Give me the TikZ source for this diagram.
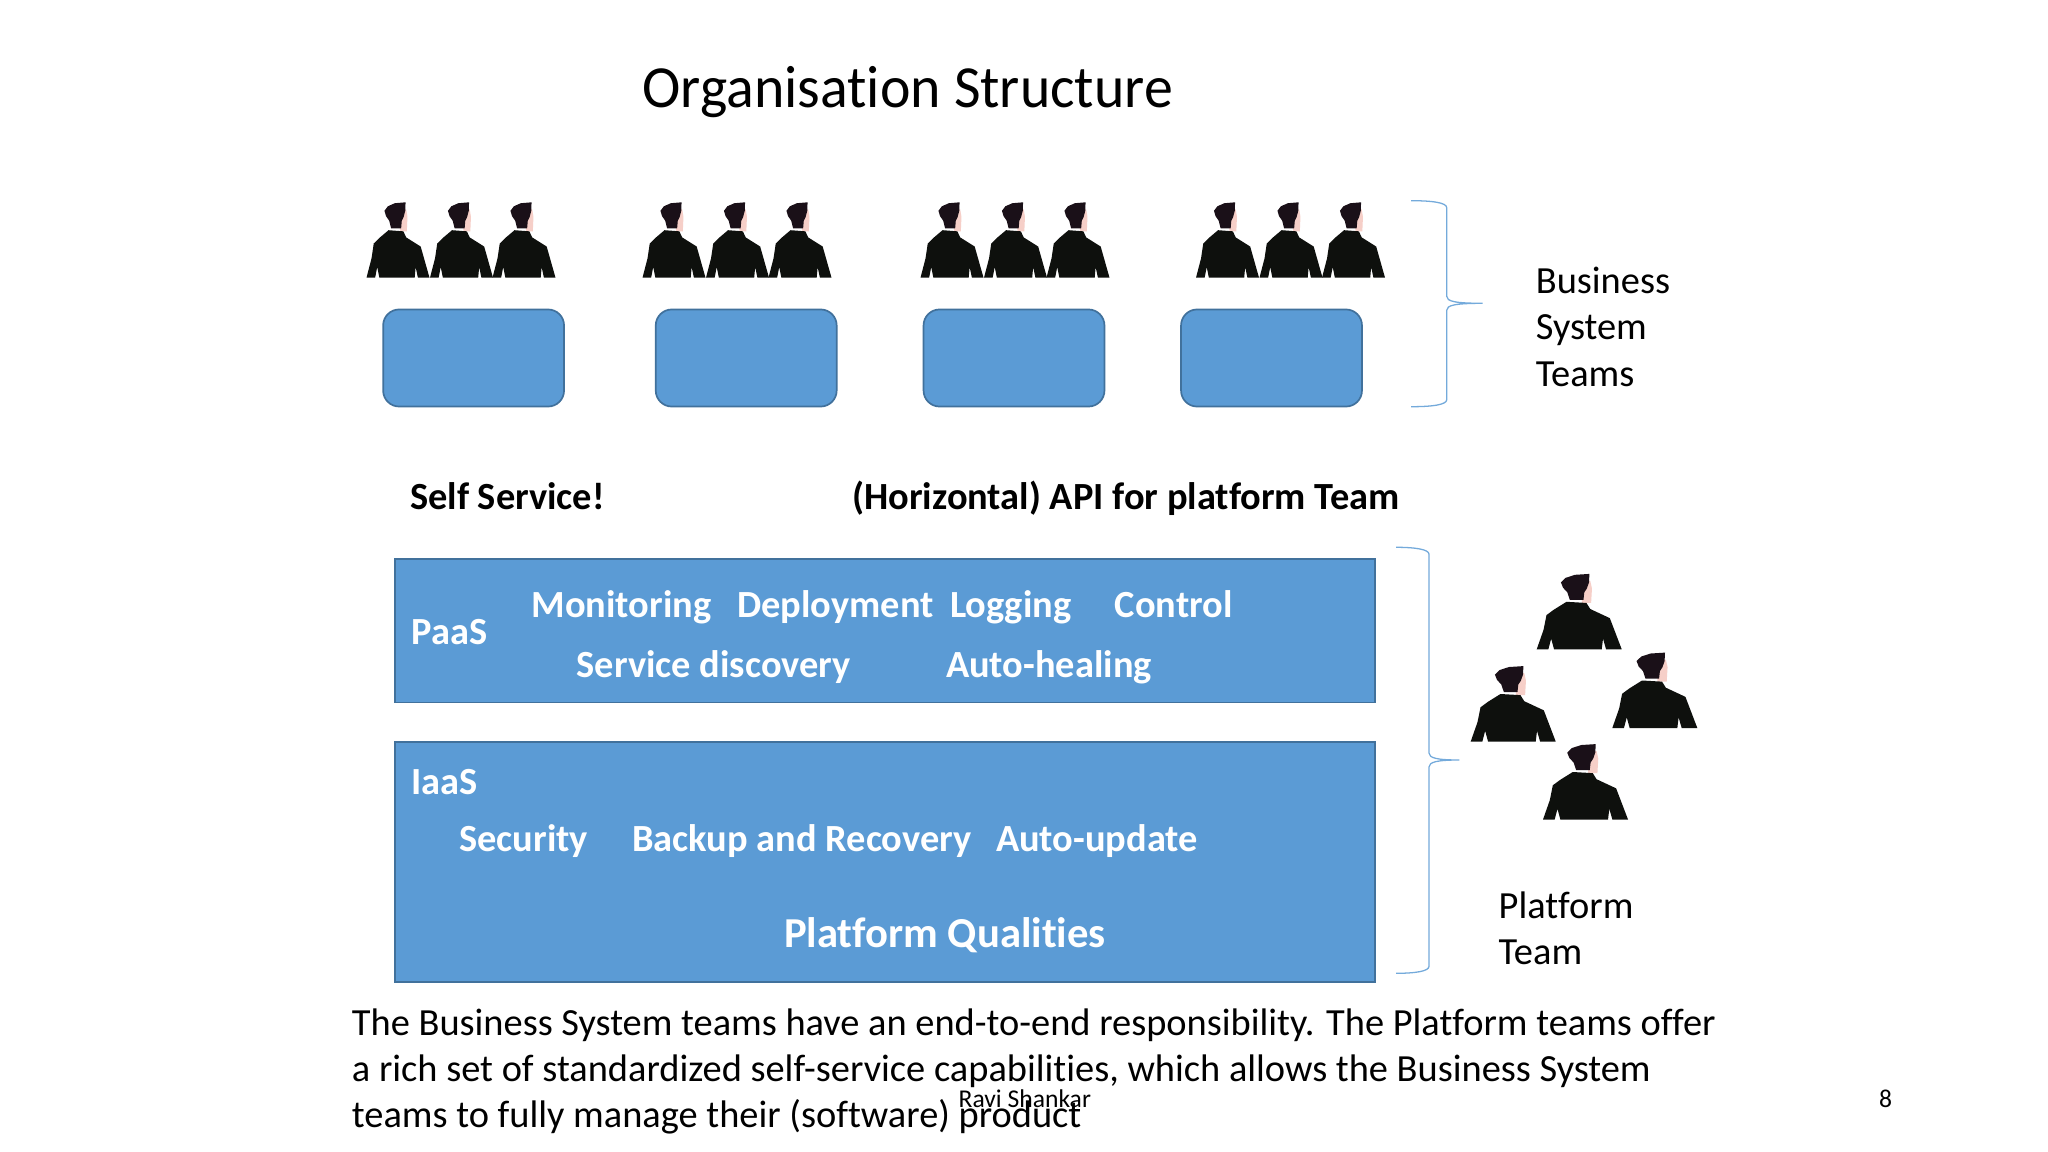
\documentclass[tikz,border=0pt]{standalone}
\usepackage{fontspec}
\setmainfont{Carlito}[Ligatures={NoCommon}]
\definecolor{boxfill}{HTML}{5B9BD5}
\definecolor{boxline}{HTML}{41719C}
\definecolor{suit}{HTML}{0E100D}
\definecolor{hairc}{HTML}{1A1018}
\definecolor{skin}{HTML}{F6CFC8}
\newcommand{\fs}[1]{\fontsize{#1}{#1}\selectfont}
\newcommand{\man}[3]{%
\begin{scope}[shift={(#1,#2)},xscale=#3,yscale=76]
\fill[skin] (.54,.1)--(.63,.1)--(.65,.2)--(.64,.39)--(.53,.39)--cycle;
\fill[hairc] (.285,.12)--(.34,.06)--(.45,.02)--(.62,.008)--(.615,.12)--(.59,.2)--(.56,.25)--(.55,.35)--(.39,.35)--(.36,.25)--(.31,.19)--cycle;
\fill[suit] (.35,.375)--(.585,.39)--(.63,.47)--(.86,.59)--(1,1)--(.816,1)--(.78,.86)--(.765,1)--(.204,1)--(.17,.86)--(.137,1)--(0,1)--(.08,.745)--(.115,.55)--(.2,.48)--cycle;
\end{scope}}
\newcommand{\curlybr}[6]{% left, spine, tip, top, mid, bottom
\draw[bracel] (#1,#4) .. controls (#2-14,#4) and (#2,#4+2) .. (#2,#4+7)
 -- (#2,#5-7) .. controls (#2,#5-2) and (#2+8,#5) .. (#3,#5)
 .. controls (#2+8,#5) and (#2,#5+2) .. (#2,#5+7)
 -- (#2,#6-7) .. controls (#2,#6-2) and (#2-14,#6) .. (#1,#6);}
\tikzset{
 txt/.style={anchor=base west,inner sep=0pt,outer sep=0pt,text=black,font=\fs{18},yshift=-.6pt,xshift=-.4pt},
 lbl/.style={txt,font=\fs{18}\bfseries},
 wlbl/.style={txt,text=white,font=\fs{18}\bfseries,xshift=.4pt},
 teambox/.style={draw=boxline,fill=boxfill,line width=.8pt,rounded corners=7.5pt,inner sep=0pt,outer sep=0pt,minimum width=84.8pt,minimum height=45.5pt},
 layerbox/.style={draw=boxline,fill=boxfill,line width=.8pt,inner sep=0pt,outer sep=0pt,minimum width=459.4pt},
 bracel/.style={draw=boxfill!85!white,line width=.6pt},
}
\begin{document}
\begin{tikzpicture}[x=0.46875pt,y=-0.46875pt]
\useasboundingbox[fill=white] (0,0) rectangle (2048,1152);
\node[txt,font=\fs{28},xscale=.968] (title) at (643.5,106.7) {Organisation Structure};
\foreach \g in {366.5,642.5,920.5,1196}{
 \man{\g}{201.7}{63}
 \man{\g+63.5}{201.7}{63}
 \man{\g+126}{201.7}{63}
}
\node[teambox] (t1) at (473.6,358) {};
\node[teambox] (t2) at (746.2,358) {};
\node[teambox] (t3) at (1014,358) {};
\node[teambox] (t4) at (1271.5,358) {};
\curlybr{1411}{1446.7}{1482.7}{200.7}{303.3}{406.7}
\node[txt] (b1) at (1536.7,292.7) {Business};
\node[txt] (b2) at (1536.7,338.3) {System};
\node[txt] (b3) at (1536.7,385) {Teams};
\node[lbl] (self) at (411,508) {Self Service!};
\node[lbl] (api) at (853.3,508) {(Horizontal) API for platform Team};
\node[layerbox,minimum height=67.3pt] (paas) at (885.2,630.85) {};
\node[layerbox,minimum height=112.8pt] (iaas) at (885.2,862) {};
\node[wlbl] (p0) at (411.7,643.3) {PaaS};
\node[wlbl] (p1) at (531.7,616) {Monitoring};
\node[wlbl] (p2) at (737.3,616) {Deployment};
\node[wlbl] (p3) at (950,616) {Logging};
\node[wlbl] (p4) at (1114.8,616) {Control};
\node[wlbl] (p5) at (576.7,676) {Service discovery};
\node[wlbl] (p6) at (946,676) {Auto-healing};
\node[wlbl] (i0) at (411.7,793.3) {IaaS};
\node[wlbl] (i1) at (459.3,850) {Security};
\node[wlbl] (i2) at (632.3,850) {Backup and Recovery};
\node[wlbl] (i3) at (996,850) {Auto-update};
\node[wlbl,font=\fs{20}\bfseries] (i4) at (784,946.7) {Platform Qualities};
\curlybr{1396}{1429}{1459.3}{547.3}{760}{973.3}
\man{1536.7}{573.3}{85}
\man{1470.7}{665.5}{85}
\man{1612.3}{652}{85}
\man{1543}{743.5}{85}
\node[txt] (pl1) at (1499.5,917) {Platform};
\node[txt] (pl2) at (1499.5,963.3) {Team};
\node[txt] (d1) at (352.8,1034.3) {The Business System teams have an end-to-end responsibility. The Platform teams offer};
\node[txt] (d2) at (352.8,1080) {a rich set of standardized self-service capabilities, which allows the Business System};
\node[txt] (d3) at (352.8,1126.7) {teams to fully manage their (software) product};
\node[txt,font=\fs{12}] (foot) at (959.5,1106) {Ravi Shankar};
\node[txt,font=\fs{12}] (num) at (1880,1106) {8};
\end{tikzpicture}
\end{document}
